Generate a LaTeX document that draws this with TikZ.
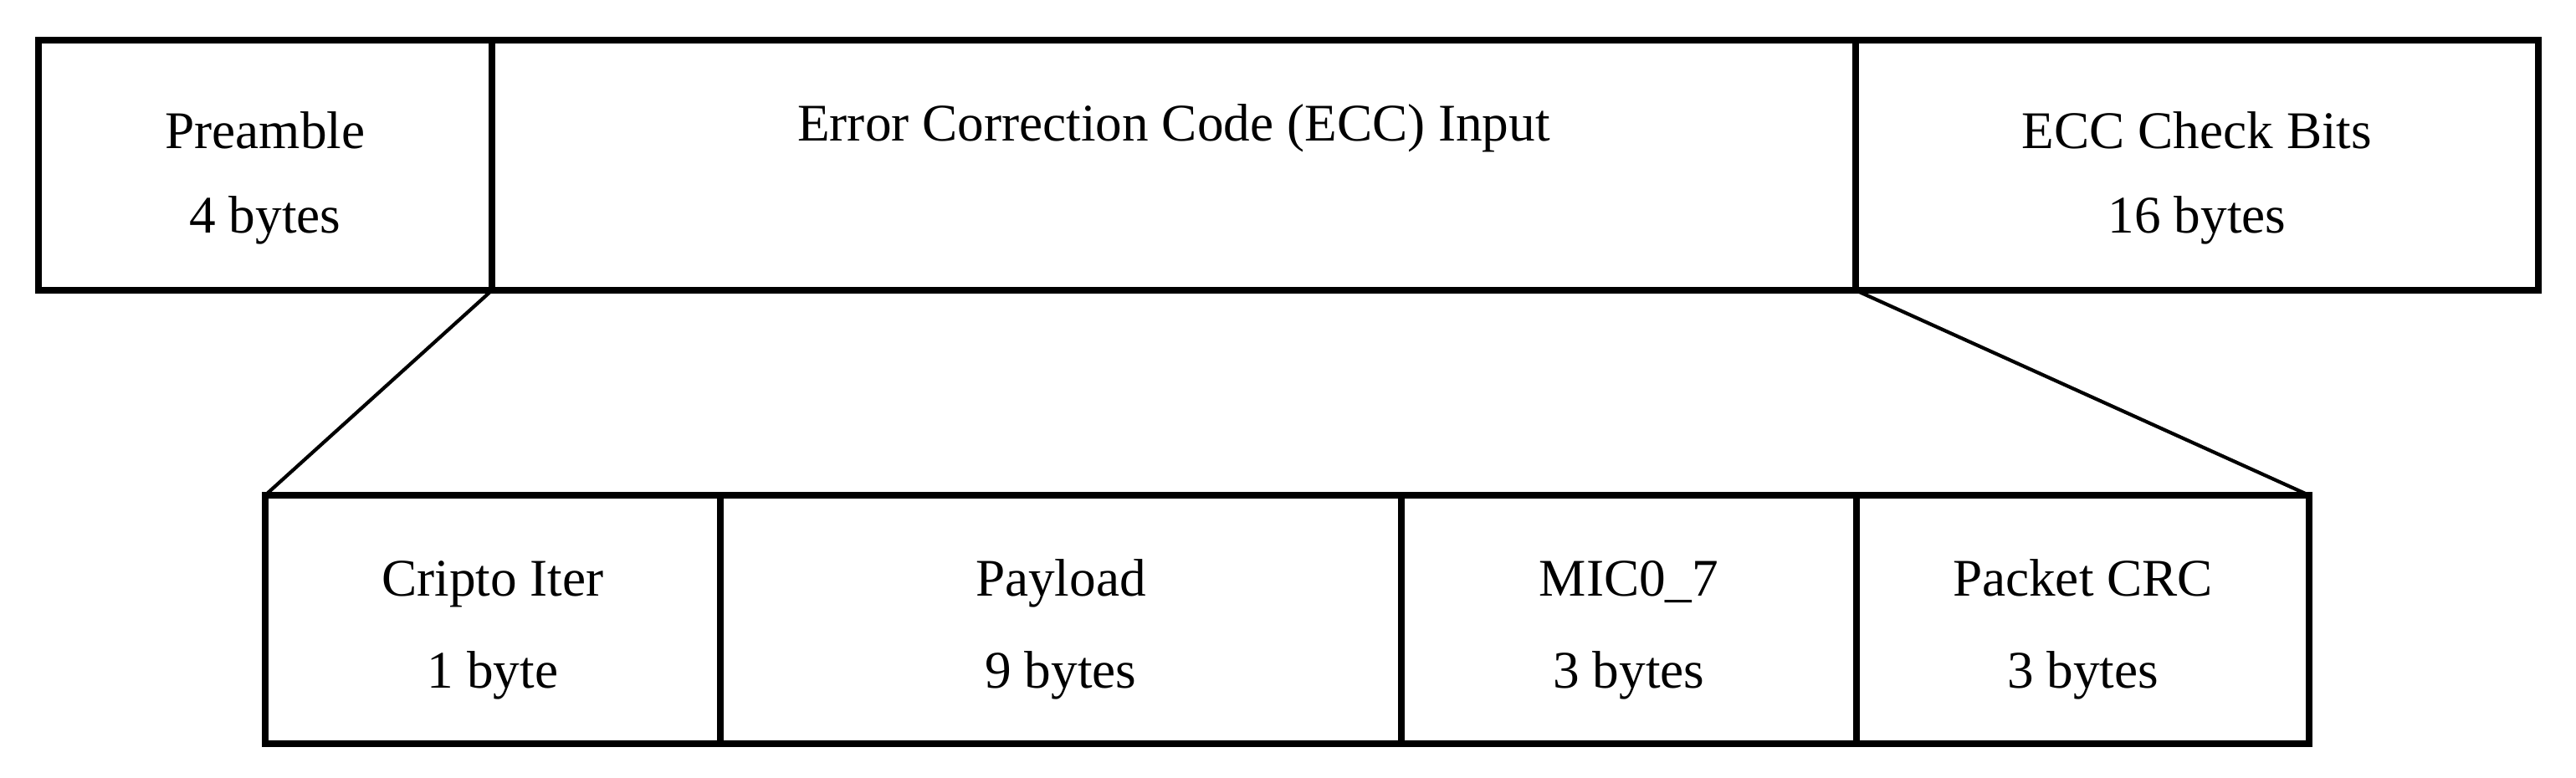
\documentclass[tikz,border=0pt]{standalone}
\usepackage{fontspec}
\setmainfont{Liberation Serif}
\begin{document}
\begin{tikzpicture}[
    champ/.style={draw, line width=2.3pt, outer sep=0pt, inner sep=0pt, align=center,
        font=\fontsize{18}{28.7}\selectfont, text height=2.30cm, text depth=0.69cm,
        minimum height=2.99cm},
    champbas/.style={champ, font=\fontsize{18}{31.3}\selectfont,
        text height=2.30cm, text depth=0.67cm, minimum height=2.97cm},
    lien/.style={line width=1.2pt}]
        \useasboundingbox (0,0) rectangle (30.79,-9.29);

        % trame complete
        \draw (3.17,-1.975) node[champ, minimum width=5.42cm] (pre) {Preamble\\4 bytes};
        \draw (14.03,-1.975) node[champ, minimum width=16.30cm, text height=1.20cm, text depth=1.79cm] (ecc) {Error Correction Code (ECC) Input};
        \draw (26.26,-1.975) node[champ, minimum width=8.16cm] (chk) {ECC Check Bits\\16 bytes};

        % detail de l'entree ECC
        \draw (5.89,-7.405) node[champbas, minimum width=5.44cm] (crip) {Cripto Iter\\1 byte};
        \draw (12.68,-7.405) node[champbas, minimum width=8.14cm] (pay) {Payload\\9 bytes};
        \draw (19.47,-7.405) node[champbas, minimum width=5.44cm] (mic) {MIC0\_7\\3 bytes};
        \draw (24.895,-7.405) node[champbas, minimum width=5.41cm] (crc) {Packet CRC\\3 bytes};

        % liens vers le detail
        \draw[lien] (ecc.south west) -- (crip.north west);
        \draw[lien] (ecc.south east) -- (crc.north east);
\end{tikzpicture}
\end{document}
